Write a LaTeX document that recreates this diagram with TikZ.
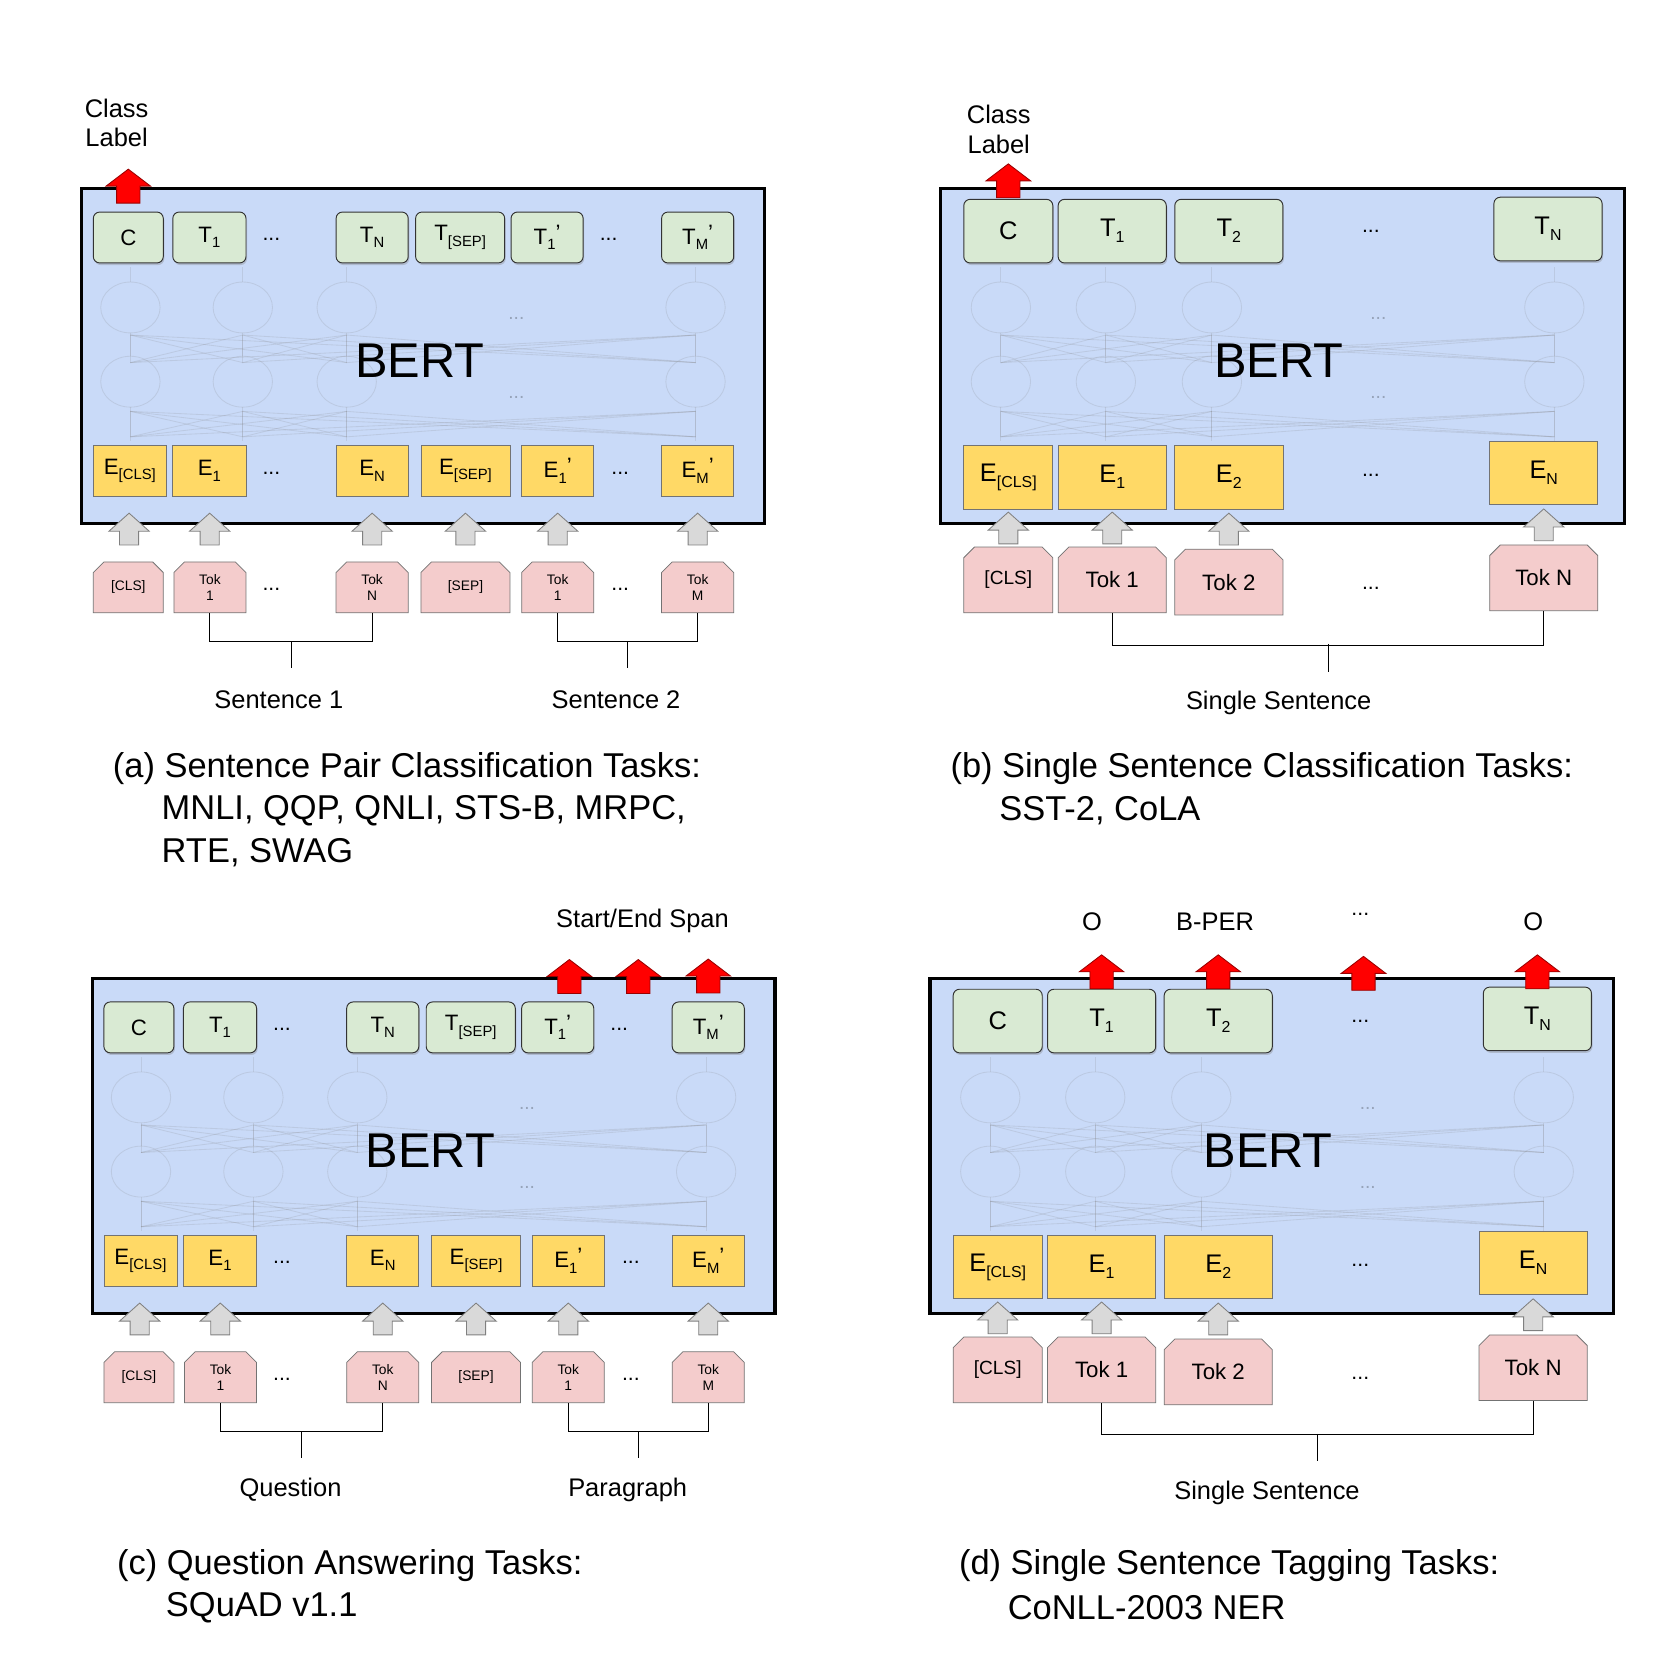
\documentclass[tikz,border=0pt]{standalone}
\usepackage{fontspec}
\setmainfont{Liberation Sans}
\usetikzlibrary{shapes.misc,shadows,calc}
\definecolor{bertblue}{HTML}{C9DAF8}
\definecolor{tgreen}{HTML}{D9EAD3}
\definecolor{eyellow}{HTML}{FFD966}
\definecolor{tpink}{HTML}{F4CCCC}
\definecolor{agrey}{HTML}{D9D9D9}
\newcommand\ssub[1]{\raisebox{-0.45ex}{\fontsize{14}{14}\selectfont #1}}
\newcommand\bsub[1]{\raisebox{-0.45ex}{\fontsize{15}{15}\selectfont #1}}
\newcommand\pr{\raisebox{0.35ex}{'}}
\tikzset{
 x=1pt,y=-1pt,
 bertbox/.style={draw=black,line width=3.2pt,fill=bertblue},
 tnode/.style={draw=black!80,line width=0.9pt,fill=tgreen,rounded corners=6pt,drop shadow={opacity=0.35,shadow xshift=1pt,shadow yshift=-2pt},minimum height=48pt,inner sep=0pt,font=\fontsize{21}{21}\selectfont},
 enode/.style={draw=black!55,line width=0.7pt,fill=eyellow,minimum height=48pt,inner sep=0pt,font=\fontsize{21}{21}\selectfont},
 toknode/.style={chamfered rectangle,chamfered rectangle corners={north west,north east},chamfered rectangle xsep=5pt,chamfered rectangle ysep=5pt,draw=black!55,line width=0.7pt,fill=tpink,minimum height=48pt,inner sep=0pt,align=center,font=\fontsize{13}{15}\selectfont},
 bigt/.style={minimum height=60pt,font=\fontsize{24}{24}\selectfont},
 bigtok/.style={minimum height=62pt,font=\fontsize{21}{21}\selectfont},
 dots/.style={font=\fontsize{20}{20}\selectfont},
 lbl/.style={font=\fontsize{24}{28}\selectfont,align=center},
 captxt/.style={font=\fontsize{32.5}{40}\selectfont,anchor=west},
 net/.style={draw=gray,opacity=0.18,line width=0.8pt},
 greyarr/.style={draw=gray,fill=agrey,line width=0.8pt},
 redarr/.style={draw=red!60!black,fill=red,line width=0.8pt},
 uparr/.pic={\path[pic actions] (-9,15) -- (-9,2) -- (-19,2) -- (0,-15) -- (19,2) -- (9,2) -- (9,15) -- cycle;},
 bigarr/.pic={\path[pic actions] (-11,16) -- (-11,0) -- (-21,0) -- (0,-16) -- (21,0) -- (11,0) -- (11,16) -- cycle;},
}
\newcommand\network[6]{% x1 x2 x3 x4 , dots x, BERT x
 \foreach \a in {#1,#2,#3,#4}{
  \draw[net] (\a,290) ellipse (28 and 24);
  \draw[net] (\a,360) ellipse (28 and 24);
  \draw[net] (\a,266) -- (\a,252);
  \draw[net] (\a,314) -- (\a,336);
  \draw[net] (\a,384) -- (\a,416);
  \foreach \b in {#1,#2,#3,#4}{
   \draw[net] (\a,342) -- (\b,316);
   \draw[net] (\a,412) -- (\b,388);
  }}
 \node[net,draw=none,text opacity=0.25,font=\fontsize{18}{18}\selectfont] at (#5,300) {...};
 \node[net,draw=none,text opacity=0.25,font=\fontsize{18}{18}\selectfont] at (#5,375) {...};
 \node[font=\fontsize{46}{46}\selectfont] at (#6,340) {BERT};
}
\newcommand\pairpanel[3]{%
\begin{scope}[shift={(#1,#2)}]
 \draw[bertbox] (77,178) rectangle (721,494);
 \network{123}{229}{327}{656}{487}{396}
 \node[tnode,minimum width=66pt] (#3C) at (121,224) {C};
 \node[tnode,minimum width=69pt] (#3T1) at (197.5,224) {T\ssub{1}};
 \node[dots] at (256,226) {...};
 \node[tnode,minimum width=68pt] (#3TN) at (351,224) {T\ssub{N}};
 \node[tnode,minimum width=84pt] (#3TS) at (434,224) {T\ssub{[SEP]}};
 \node[tnode,minimum width=68pt] (#3Tp) at (516,224) {T\ssub{1}\pr};
 \node[dots] at (574,226) {...};
 \node[tnode,minimum width=68pt] (#3TM) at (658,224) {T\ssub{M}\pr};
 \node[enode,minimum width=69pt] (#3EC) at (122.5,444) {E\ssub{[CLS]}};
 \node[enode,minimum width=69pt] (#3E1) at (197.5,444) {E\ssub{1}};
 \node[dots] at (256,446) {...};
 \node[enode,minimum width=68pt] (#3EN) at (351,444) {E\ssub{N}};
 \node[enode,minimum width=84pt] (#3ES) at (439,444) {E\ssub{[SEP]}};
 \node[enode,minimum width=68pt] (#3Ep) at (526,444) {E\ssub{1}\pr};
 \node[dots] at (585,446) {...};
 \node[enode,minimum width=68pt] (#3EM) at (658,444) {E\ssub{M}\pr};
 \node[toknode,minimum width=66pt] (#3KC) at (121,554) {[CLS]};
 \node[toknode,minimum width=68pt] (#3K1) at (198,554) {Tok\\1};
 \node[dots] at (256,556) {...};
 \node[toknode,minimum width=68pt] (#3KN) at (351,554) {Tok\\N};
 \node[toknode,minimum width=84pt] (#3KS) at (439,554) {[SEP]};
 \node[toknode,minimum width=68pt] (#3Kp) at (526,554) {Tok\\1};
 \node[dots] at (585,556) {...};
 \node[toknode,minimum width=68pt] (#3KM) at (658,554) {Tok\\M};
 \foreach \k/\e in {KC/EC,K1/E1,KN/EN,KS/ES,Kp/Ep,KM/EM}
  \pic[greyarr] at ($(#3\k.north)!0.5!(#3\e.south)$) {uparr};
 \draw[line width=0.9pt] (#3K1.south) -- ++(0,27) -| (#3KN.south);
 \draw[line width=0.9pt] (#3Kp.south) -- ++(0,27) -| (#3KM.south);
 \coordinate (#3m1) at ($(#3K1.south)!0.5!(#3KN.south)+(0,27)$);
 \coordinate (#3m2) at ($(#3Kp.south)!0.5!(#3KM.south)+(0,27)$);
 \draw[line width=0.9pt] (#3m1) -- ++(0,25);
 \draw[line width=0.9pt] (#3m2) -- ++(0,25);
\end{scope}}
\newcommand\singlepanel[3]{%
\begin{scope}[shift={(#1,#2)}]
 \draw[bertbox] (887,178) rectangle (1532,494);
 \network{944}{1043}{1143}{1466}{1300}{1206}
 \node[tnode,bigt,minimum width=84pt] (#3C) at (951,218) {C};
 \node[tnode,bigt,minimum width=102pt] (#3T1) at (1049,218) {T\bsub{1}};
 \node[tnode,bigt,minimum width=102pt] (#3T2) at (1159,218) {T\bsub{2}};
 \node[dots] at (1293,218) {...};
 \node[tnode,bigt,minimum width=102pt] (#3TN) at (1460,216) {T\bsub{N}};
 \node[enode,bigt,minimum width=84pt] (#3EC) at (951,450) {E\bsub{[CLS]}};
 \node[enode,bigt,minimum width=102pt] (#3E1) at (1049,450) {E\bsub{1}};
 \node[enode,bigt,minimum width=102pt] (#3E2) at (1159,450) {E\bsub{2}};
 \node[dots] at (1293,448) {...};
 \node[enode,bigt,minimum width=102pt] (#3EN) at (1456,446) {E\bsub{N}};
 \node[toknode,bigtok,minimum width=84pt,font=\fontsize{18}{18}\selectfont] (#3KC) at (951,547) {[CLS]};
 \node[toknode,bigtok,minimum width=102pt] (#3K1) at (1049,547) {Tok 1};
 \node[toknode,bigtok,minimum width=102pt] (#3K2) at (1159,549) {Tok 2};
 \node[dots] at (1293,555) {...};
 \node[toknode,bigtok,minimum width=102pt] (#3KN) at (1456,545) {Tok N};
 \foreach \k/\e in {KC/EC,K1/E1,K2/E2,KN/EN}
  \pic[greyarr] at ($(#3\k.north)!0.5!(#3\e.south)$) {uparr};
 \draw[line width=0.9pt] (#3K1.south) -- ++(0,30) -| (#3KN.south);
 \coordinate (#3m) at ($(#3K1.south)!0.5!(#3KN.south)+(0,30)$);
 \draw[line width=0.9pt] (#3m) -- ++(0,26);
\end{scope}}
\begin{document}
\begin{tikzpicture}
\useasboundingbox (0,0) rectangle (1560,1560);
% (a)
\pairpanel{0}{0}{a}
\pic[redarr] at ($(aC.north)+(0,-24)$) {bigarr};
\node[lbl] at (110,116) {Class\\Label};
\node[lbl] at (263,660) {Sentence 1};
\node[lbl] at (581,660) {Sentence 2};
\node[captxt] at (103,725) {(a) Sentence Pair Classification Tasks:};
\node[captxt] at (149,765) {MNLI, QQP, QNLI, STS-B, MRPC,};
\node[captxt] at (149,804) {RTE, SWAG};
% (b)
\singlepanel{0}{0}{b}
\pic[redarr] at ($(bC.north)+(0,-17)$) {bigarr};
\node[lbl] at (942,122) {Class\\Label};
\node[lbl] at (1206,663) {Single Sentence};
\node[captxt] at (893,725) {(b) Single Sentence Classification Tasks:};
\node[captxt] at (939,765) {SST-2, CoLA};
% (c)
\pairpanel{10}{745}{c}
\pic[redarr] at (537,921) {bigarr};
\pic[redarr] at (602,921) {bigarr};
\pic[redarr] at ($(cTM.north)+(0,-24)$) {bigarr};
\node[lbl] at (606,869) {Start/End Span};
\node[lbl] at (274,1405) {Question};
\node[lbl] at (592,1405) {Paragraph};
\node[captxt] at (107,1477) {(c) Question Answering Tasks:};
\node[captxt] at (153,1516) {SQuAD v1.1};
% (d)
\singlepanel{-10}{745}{d}
\pic[redarr] at ($(dT1.north)+(0,-16)$) {bigarr};
\pic[redarr] at ($(dT2.north)+(0,-16)$) {bigarr};
\pic[redarr] at (1286,918) {bigarr};
\pic[redarr] at ($(dTN.north)+(0,-14)$) {bigarr};
\node[lbl] at (1030,869) {O};
\node[lbl] at (1146,869) {B-PER};
\node[dots] at (1283,862) {...};
\node[lbl] at (1446,869) {O};
\node[lbl] at (1195,1408) {Single Sentence};
\node[captxt] at (901,1477) {(d) Single Sentence Tagging Tasks:};
\node[captxt] at (947,1516) {CoNLL-2003 NER};
\end{tikzpicture}
\end{document}
